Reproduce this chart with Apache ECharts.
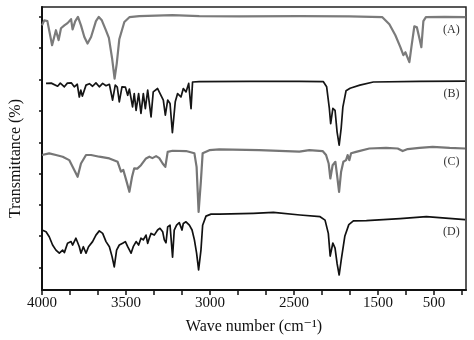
<!DOCTYPE html>
<html><head><meta charset="utf-8">
<script src="https://cdn.jsdelivr.net/npm/echarts@6/dist/echarts.min.js"></script>
<style>html,body{margin:0;padding:0;background:#fff}#c{width:474px;height:340px}</style>
</head><body><div id="c"></div>
<script>
// Axis calibration (wavenumber -> tick index)
const tickWaves = [4000, 3500, 3000, 2500, 1500, 500, 400];
const tickPos   = [0, 3, 6, 9, 12, 14, 15.14];
const xTickLabels = ['4000', '3500', '3000', '2500', '1500', '500'];
const xMinorTicks = [0,1,2,3,4,5,6,7,8,9,10,11,12,13,14,15];
const yTickValues = [7.9, 19.0, 30.1, 41.2, 52.2, 63.3, 74.4, 85.5, 96.5];
const seriesNames = ['(A)', '(B)', '(C)', '(D)'];

// Spectra: [wavenumber (cm-1), transmittance (offset, %)]
const specA = [[4000,93.5],[3986,95.3],[3968,95.0],[3940,86.5],[3917,91.8],[3901,88.3],[3887,92.5],[3867,93.5],[3848,94.3],[3827,95.7],[3818,92.1],[3802,95.0],[3786,96.5],[3768,93.5],[3748,89.4],[3729,87.1],[3708,89.4],[3679,95.0],[3662,96.5],[3644,95.3],[3620,91.8],[3602,89.1],[3583,81.9],[3568,74.7],[3555,80.1],[3540,88.6],[3510,94.7],[3480,96.4],[3421,96.8],[3224,97.1],[3064,96.8],[2826,96.7],[2437,96.8],[1842,96.7],[1423,96.4],[1298,93.9],[1191,90.0],[1102,85.8],[1048,83.0],[1012,84.0],[977,83.7],[941,80.5],[900,86.5],[852,93.2],[807,92.8],[762,89.0],[727,85.8],[691,95.0],[646,96.4],[467,96.5],[402,96.4]];

const specB = [[3976,73.0],[3945,73.1],[3907,72.0],[3891,73.1],[3867,71.8],[3849,73.1],[3826,73.2],[3808,71.8],[3790,72.7],[3778,68.2],[3769,70.6],[3760,68.5],[3738,72.4],[3718,72.9],[3699,72.0],[3679,73.2],[3659,71.8],[3639,73.0],[3619,72.2],[3599,72.7],[3580,67.1],[3564,72.4],[3552,71.7],[3540,66.5],[3524,71.8],[3504,71.7],[3490,68.8],[3480,71.0],[3461,64.7],[3451,69.4],[3440,63.5],[3425,69.4],[3411,62.4],[3397,69.4],[3385,64.1],[3371,70.6],[3351,61.2],[3338,70.0],[3312,71.2],[3292,68.8],[3278,67.1],[3266,61.8],[3252,67.1],[3238,65.9],[3224,55.6],[3207,66.5],[3193,69.4],[3173,68.2],[3159,71.2],[3143,70.0],[3127,73.0],[3113,64.1],[3104,73.5],[3064,73.6],[2766,73.7],[2437,73.7],[2151,73.6],[2112,71.8],[2080,64.2],[2064,58.8],[2038,64.2],[2012,63.5],[1988,55.9],[1963,51.2],[1939,57.2],[1919,64.6],[1881,70.4],[1833,71.3],[1717,72.4],[1556,73.5],[762,73.7],[403,73.8]];

const specC = [[4000,47.7],[3957,48.3],[3917,47.7],[3877,47.1],[3838,45.9],[3808,42.4],[3788,40.0],[3768,44.7],[3738,47.7],[3708,47.7],[3659,47.1],[3599,46.5],[3550,45.3],[3530,41.8],[3516,42.4],[3496,38.2],[3480,34.7],[3464,40.0],[3451,43.0],[3433,42.9],[3411,44.1],[3381,46.5],[3361,47.1],[3343,46.6],[3321,47.3],[3302,46.6],[3282,44.7],[3266,43.5],[3252,48.8],[3223,49.2],[3143,49.1],[3093,48.3],[3080,43.5],[3068,27.6],[3054,38.8],[3044,48.3],[3004,49.4],[2945,49.7],[2707,49.4],[2437,48.9],[2318,49.4],[2160,49.1],[2119,47.7],[2088,44.7],[2068,39.4],[2041,44.1],[2008,45.3],[1988,40.6],[1964,34.7],[1940,41.8],[1913,45.3],[1881,45.9],[1862,47.7],[1842,45.9],[1821,48.3],[1762,48.8],[1604,50.0],[1357,50.2],[1150,50.0],[1061,49.1],[971,49.8],[762,50.2],[525,50.6],[451,50.2],[403,50.0]];

const specD = [[4000,21.2],[3992,21.8],[3976,20.6],[3957,18.8],[3937,15.9],[3917,14.1],[3897,13.0],[3877,14.1],[3867,13.2],[3848,16.5],[3827,17.1],[3818,15.9],[3798,18.3],[3778,15.3],[3768,13.0],[3754,15.3],[3738,13.0],[3723,15.3],[3699,17.1],[3679,19.4],[3659,20.9],[3639,20.0],[3619,17.1],[3599,15.3],[3583,11.8],[3570,8.2],[3556,14.1],[3540,15.9],[3520,16.5],[3504,17.1],[3490,15.3],[3470,13.0],[3457,15.3],[3440,17.1],[3425,15.9],[3411,18.3],[3397,17.7],[3381,19.4],[3371,16.5],[3361,18.4],[3351,20.0],[3332,19.4],[3312,21.2],[3298,21.8],[3282,20.6],[3272,17.7],[3262,16.7],[3252,22.3],[3238,22.9],[3223,11.6],[3213,21.2],[3199,22.9],[3183,23.8],[3167,21.2],[3159,23.5],[3143,24.1],[3123,22.9],[3107,21.2],[3093,17.7],[3080,13.0],[3068,7.1],[3054,14.1],[3044,22.9],[3024,26.1],[2994,26.8],[2945,26.8],[2742,27.1],[2623,27.4],[2429,26.5],[2190,25.9],[2131,24.7],[2092,20.0],[2070,12.0],[2038,16.6],[2012,14.8],[1987,9.2],[1963,5.3],[1937,10.9],[1895,19.1],[1848,23.1],[1794,24.4],[1639,24.5],[1107,25.2],[638,25.9],[403,24.9]];

// piecewise calibration of the printed wavenumber axis
function toPos(w) {
  for (let i = 0; i < tickWaves.length - 1; i++) {
    const a = tickWaves[i], b = tickWaves[i + 1];
    if (w <= a && w >= b) {
      return tickPos[i] + (a - w) / (a - b) * (tickPos[i + 1] - tickPos[i]);
    }
  }
  return w > tickWaves[0] ? tickPos[0] : tickPos[tickPos.length - 1];
}
const conv = arr => arr.map(p => [toPos(p[0]), p[1]]);

const serif = '"Liberation Serif", "DejaVu Serif", "Times New Roman", serif';
const spectra = [specA, specB, specC, specD];
const colors = ['#7b7b7b', '#151515', '#767676', '#111111'];
const widths = [2.2, 1.7, 2.2, 1.7];
const labelAt = [[14.62, 92.1], [14.62, 69.2], [14.62, 45.2], [14.62, 20.5]];

const chart = echarts.init(document.getElementById('c'), null, {renderer: 'canvas'});
chart.setOption({
  animation: false,
  backgroundColor: '#fff',
  grid: {left: 42, right: 8, top: 7, bottom: 50, show: true, borderColor: '#222', borderWidth: 1.5, backgroundColor: 'transparent'},
  xAxis: {
    type: 'value', min: 0, max: tickPos[tickPos.length - 1],
    name: 'Wave number (cm\u207B\u00B9)', nameLocation: 'middle', nameGap: 29,
    nameTextStyle: {fontFamily: serif, fontSize: 16, color: '#111'},
    axisLine: {show: true, onZero: false, lineStyle: {color: '#111', width: 2}},
    axisTick: {show: true, customValues: xMinorTicks, length: 5, lineStyle: {color: '#111', width: 1.5}},
    axisLabel: {show: true, customValues: tickPos.slice(0, xTickLabels.length), margin: 6,
      fontFamily: serif, fontSize: 15, color: '#111',
      formatter: v => { const i = tickPos.findIndex(p => Math.abs(p - v) < 1e-6); return i >= 0 ? xTickLabels[i] : ''; }},
    splitLine: {show: false}
  },
  yAxis: {
    type: 'value', min: 0, max: 100,
    name: 'Transmittance (%)', nameLocation: 'middle', nameGap: 18, nameRotate: 90,
    nameTextStyle: {fontFamily: serif, fontSize: 16, color: '#111', padding: [0, 20, 0, 0]},
    axisLine: {show: true, onZero: false, lineStyle: {color: '#111', width: 2}},
    axisTick: {show: true, customValues: yTickValues, length: 3, lineStyle: {color: '#111', width: 1.5}},
    axisLabel: {show: false},
    splitLine: {show: false}
  },
  series: spectra.map((s, i) => ({
    name: seriesNames[i], type: 'line', data: conv(s), showSymbol: false, symbol: 'none',
    lineStyle: {color: colors[i], width: widths[i], join: 'round'},
    markPoint: {
      silent: true, symbol: 'circle', symbolSize: 1, itemStyle: {color: 'rgba(0,0,0,0)'},
      data: [{coord: labelAt[i]}],
      label: {show: true, position: 'inside', formatter: seriesNames[i], fontFamily: serif, fontSize: 12, color: '#333'}
    }
  }))
});
</script></body></html>
